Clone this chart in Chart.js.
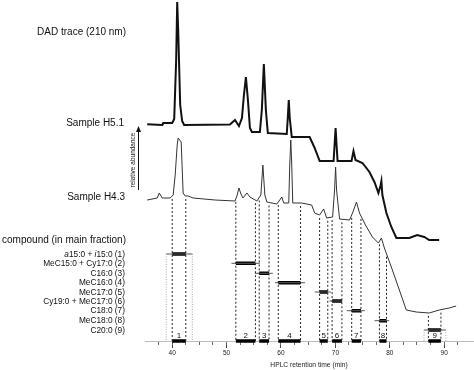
<!DOCTYPE html>
<html>
<head>
<meta charset="utf-8">
<script src="https://cdn.jsdelivr.net/npm/chart.js@4.4.0/dist/chart.umd.min.js"></script>
<style>
  html, body { margin: 0; padding: 0; background: #fff; }
</style>
</head>
<body>
<canvas id="hplcChart" width="474" height="370"></canvas>
<script>
// retention time (min) and trace height (units above the time axis)
var timeH51 = [35.4, 38.2, 38.35, 40.0, 40.37, 40.73, 40.92, 41.1, 41.47, 41.83, 42.2, 50.62, 51.54, 52.27, 52.82, 53.19, 53.55, 53.92, 54.29, 54.65, 56.12, 56.48, 56.85, 57.22, 57.58, 61.06, 61.25, 61.43, 61.61, 61.98, 65.27, 66.19, 67.11, 69.67, 69.85, 70.04, 70.22, 70.4, 72.97, 73.33, 73.7, 74.98, 76.26, 77.18, 77.91, 78.28, 78.46, 78.64, 79.38, 80.29, 81.21, 83.59, 85.05, 86.34, 87.25, 89.08];
var heightH51 = [216.7, 216, 218, 218, 222, 281, 339, 311, 236, 220, 216, 216.5, 221, 215, 223, 246, 264, 241, 213, 209, 209, 231, 277, 231, 208, 207, 223, 241, 223, 204, 204, 193, 180, 180, 196, 213, 196, 180, 180, 190, 181, 178, 169, 159, 148, 155, 160, 146, 128, 114, 103, 103, 106, 104, 101, 101];

var timeH43 = [35.4, 37.25, 37.62, 38.17, 39.63, 40.18, 40.55, 40.92, 41.1, 41.65, 42.01, 42.38, 42.93, 43.85, 47.88, 51.54, 51.9, 52.27, 52.64, 53.0, 53.74, 54.29, 55.57, 56.3, 56.67, 57.03, 57.4, 59.23, 59.78, 60.15, 60.51, 61.43, 61.61, 61.8, 61.98, 62.16, 63.81, 65.64, 66.19, 67.11, 67.84, 68.39, 69.49, 69.85, 70.04, 70.22, 70.77, 72.6, 73.15, 73.88, 74.43, 75.53, 76.81, 77.91, 78.46, 79.01, 80.48, 81.76, 83.04, 84.87, 87.25, 89.08, 90.92, 92.2];
var heightH43 = [141, 143, 148, 143, 143, 146, 166, 196, 203, 199, 148, 145, 145, 143, 141, 140, 145, 153, 147, 143, 148, 144, 140, 146, 176, 146, 139, 137, 141, 144, 138, 138, 176, 201, 176, 138, 138, 136, 128, 126, 132, 123, 124, 151, 174, 151, 122, 121, 128, 139, 128, 116, 104, 98, 103, 93, 71, 51, 31, 29, 28, 31, 33, 35];

// collected fractions (min)
var fractionStart = [40.0, 51.7, 56.0, 59.5, 67.1, 69.4, 73.0, 78.1, 87.1];
var fractionEnd   = [42.5, 55.3, 57.8, 63.6, 68.6, 71.2, 74.7, 79.4, 89.4];
var windowStart   = [38.9, 50.9, 55.2, 58.9, 66.2, 68.9, 72.1, 77.2, 86.3];
var windowEnd     = [43.7, 56.1, 58.5, 64.4, 69.2, 71.3, 75.4, 79.9, 90.3];
var fractionRow   = [87, 77.7, 67.7, 58.3, 49, 40, 30.3, 20.3, 11];
var fractionNumbers = ['1', '2', '3', '4', '5', '6', '7', '8', '9'];
var compoundNames = ['a15:0 + i15:0 (1)', 'MeC15:0 + Cy17:0 (2)', 'C16:0 (3)', 'MeC16:0 (4)', 'MeC17:0 (5)',
        'Cy19:0 + MeC17:0 (6)', 'C18:0 (7)', 'MeC18:0 (8)', 'C20:0 (9)'];
var greyWindows = [0, 8]; // fractions with dotted window marks

var xTickLabels = [40, 50, 60, 70, 80, 90];

var FONT = '"Liberation Sans", Arial, sans-serif';

function toPoints(xs, ys) {
        return xs.map(function (x, i) { return { x: x, y: ys[i] }; });
}

// height of the H4.3 trace at a given time
function traceAt(t) {
        for (var i = 1; i < timeH43.length; i++) {
                if (t <= timeH43[i]) {
                        var f = (t - timeH43[i - 1]) / (timeH43[i] - timeH43[i - 1]);
                        return heightH43[i - 1] + f * (heightH43[i] - heightH43[i - 1]);
                }
        }
        return heightH43[heightH43.length - 1];
}

var dashedPts = [], windowPts = [], barPts = [], axisBarPts = [], greyPts = [];
fractionStart.forEach(function (s, i) {
        var e = fractionEnd[i];
        [s, e].forEach(function (t) {
                dashedPts.push({ x: t, y: traceAt(t) - 3 }, { x: t, y: 0 }, { x: t, y: null });
        });
        windowPts.push({ x: windowStart[i], y: fractionRow[i] }, { x: windowEnd[i], y: fractionRow[i] }, { x: windowEnd[i], y: null });
        barPts.push({ x: s, y: fractionRow[i] }, { x: e, y: fractionRow[i] }, { x: e, y: null });
        axisBarPts.push({ x: s, y: 0 }, { x: e, y: 0 }, { x: e, y: null });
});
greyWindows.forEach(function (i) {
        [windowStart[i], windowEnd[i]].forEach(function (t) {
                greyPts.push({ x: t, y: fractionRow[i] }, { x: t, y: 0 }, { x: t, y: null });
        });
});

// draw a label with italic a/i prefixes, right aligned
function drawName(c, text, right, y, size) {
        var parts = text.split(/(\b[ai](?=\d))/).filter(function (p) { return p !== ''; });
        var fonts = parts.map(function (p) { return (/^[ai]$/.test(p) ? 'italic ' : '') + size + 'px ' + FONT; });
        var total = 0;
        parts.forEach(function (p, k) { c.font = fonts[k]; total += c.measureText(p).width; });
        var x = right - total;
        c.textAlign = 'left';
        parts.forEach(function (p, k) { c.font = fonts[k]; c.fillText(p, x, y); x += c.measureText(p).width; });
}

var textPlugin = {
        id: 'hplcText',
        afterDatasetsDraw: function (chart) {
                var c = chart.ctx, xs = chart.scales.x, ys = chart.scales.y;
                c.save();
                c.fillStyle = '#111';
                c.textBaseline = 'middle';
                c.textAlign = 'right';
                c.font = '10px ' + FONT;
                c.fillText('DAD trace (210 nm)', 126, 32);
                c.fillText('Sample H5.1', 124, 123);
                c.fillText('Sample H4.3', 125, 197);
                c.fillText('compound (in main fraction)', 126, 240);

                compoundNames.forEach(function (n, i) {
                        drawName(c, n, 125, ys.getPixelForValue(fractionRow[i]) + 0.5, 8.3);
                });

                c.textAlign = 'center';
                c.font = '8px ' + FONT;
                fractionNumbers.forEach(function (n, i) {
                        c.fillText(n, xs.getPixelForValue((fractionStart[i] + fractionEnd[i]) / 2), ys.getPixelForValue(0) - 5.5);
                });

                // relative abundance arrow
                c.strokeStyle = '#111';
                c.lineWidth = 1;
                c.beginPath();
                c.moveTo(138.5, 190);
                c.lineTo(138.5, 130);
                c.stroke();
                c.beginPath();
                c.moveTo(138.5, 126);
                c.lineTo(136, 132);
                c.lineTo(141, 132);
                c.closePath();
                c.fill();
                c.translate(133, 160);
                c.rotate(-Math.PI / 2);
                c.font = '6.5px ' + FONT;
                c.fillText('relative abundance', 0, 0);
                c.restore();
        }
};

var hplcChart = new Chart(document.getElementById('hplcChart').getContext('2d'), {
        type: 'line',
        data: {
                datasets: [
                        { data: toPoints(timeH51, heightH51), borderColor: '#111', borderWidth: 2 },
                        { data: toPoints(timeH43, heightH43), borderColor: '#333', borderWidth: 1 },
                        { data: dashedPts, borderColor: '#222', borderWidth: 1, borderDash: [2, 2] },
                        { data: greyPts, borderColor: '#aaa', borderWidth: 1, borderDash: [1, 1.5] },
                        { data: windowPts, borderColor: '#555', borderWidth: 1 },
                        { data: barPts, borderColor: '#000', borderWidth: 3.5 },
                        { data: axisBarPts, borderColor: '#000', borderWidth: 3.5 }
                ]
        },
        options: {
                responsive: false,
                animation: false,
                layout: { padding: { left: 145, top: 0, right: 0, bottom: 0 } },
                plugins: { legend: { display: false }, tooltip: { enabled: false } },
                datasets: { line: { clip: false, spanGaps: false, pointRadius: 0, tension: 0, borderCapStyle: 'butt' } },
                scales: {
                        x: {
                                type: 'linear', min: 35, max: 95.3, weight: 1,
                                afterFit: function (s) { s.height = 29; },
                                border: { color: '#bbb' },
                                grid: {
                                        drawOnChartArea: false, tickLength: 7,
                                        tickColor: function (ctx) { return xTickLabels.indexOf(ctx.tick && ctx.tick.value) >= 0 ? '#444' : 'rgba(0,0,0,0)'; }
                                },
                                ticks: {
                                        stepSize: 10, autoSkip: false, maxRotation: 0, padding: 1,
                                        color: '#222', font: { size: 6.5, family: FONT },
                                        callback: function (v) { return xTickLabels.indexOf(v) >= 0 ? String(v) : ''; }
                                },
                                title: {
                                        display: true, text: 'HPLC retention time (min)', color: '#222',
                                        font: { size: 6.7, family: FONT }, padding: { top: 0, bottom: 1 }
                                }
                        },
                        xMinor: {
                                type: 'linear', position: 'bottom', min: 35, max: 95.3, weight: 0,
                                afterFit: function (s) { s.height = 0; },
                                border: { display: false },
                                grid: {
                                        drawOnChartArea: false, tickLength: 4,
                                        tickColor: function (ctx) {
                                                var v = ctx.tick ? ctx.tick.value : 0;
                                                return (v > 35 && Math.abs(v / 2.5 - Math.round(v / 2.5)) < 1e-6) ? '#666' : 'rgba(0,0,0,0)';
                                        }
                                },
                                ticks: { stepSize: 2.5, display: false }
                        },
                        y: { display: false, min: 0, max: 341 }
                }
        },
        plugins: [textPlugin]
});
</script>
</body>
</html>
